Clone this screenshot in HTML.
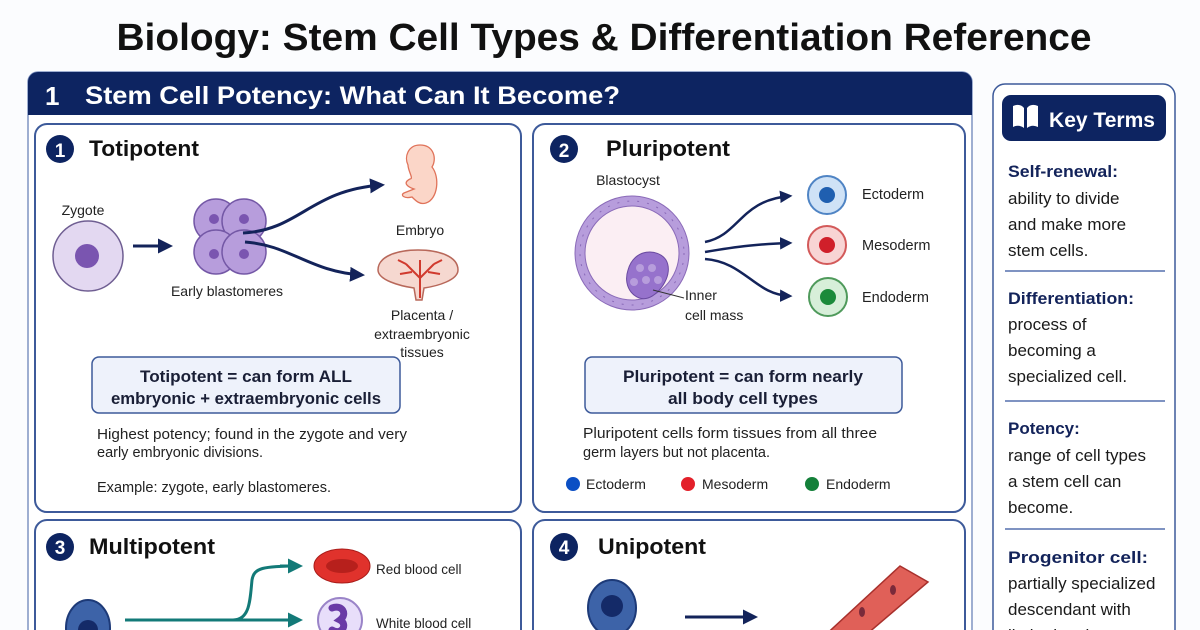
<!DOCTYPE html>
<html><head><meta charset="utf-8"><style>
html,body{margin:0;padding:0;background:#fbfcfe;width:1200px;height:630px;overflow:hidden;}
svg{display:block;font-family:"Liberation Sans",sans-serif;}
</style></head><body>
<svg width="1200" height="630" viewBox="0 0 1200 630" xmlns="http://www.w3.org/2000/svg">
<defs>
<marker id="ah" viewBox="0 0 10 10" refX="8" refY="5" markerWidth="5" markerHeight="5" orient="auto"><path d="M0,0 L10,5 L0,10 z" fill="#13235a"/></marker>
<marker id="at" viewBox="0 0 10 10" refX="8" refY="5" markerWidth="5" markerHeight="5" orient="auto"><path d="M0,0 L10,5 L0,10 z" fill="#137a78"/></marker>
</defs>
<rect width="1200" height="630" fill="#fbfcfe"/>
<text x="604" y="50" text-anchor="middle" font-size="38" font-weight="bold" fill="#111" textLength="975" lengthAdjust="spacingAndGlyphs">Biology: Stem Cell Types &amp; Differentiation Reference</text>

<rect x="28" y="72" width="944" height="600" rx="10" fill="#fff" stroke="#7f93c2" stroke-width="1.5"/>
<path d="M28,115 V82 a10,10 0 0 1 10,-10 H962 a10,10 0 0 1 10,10 V115 z" fill="#0d2461"/>
<text x="45" y="105" font-size="26" font-weight="bold" fill="#fff">1</text>
<text x="85" y="104" font-size="25" font-weight="bold" fill="#fff" textLength="535" lengthAdjust="spacingAndGlyphs">Stem Cell Potency: What Can It Become?</text>

<rect x="35" y="124" width="486" height="388" rx="12" fill="#fff" stroke="#3d5a9a" stroke-width="2"/>
<rect x="533" y="124" width="432" height="388" rx="12" fill="#fff" stroke="#3d5a9a" stroke-width="2"/>
<rect x="35" y="520" width="486" height="150" rx="12" fill="#fff" stroke="#3d5a9a" stroke-width="2"/>
<rect x="533" y="520" width="432" height="150" rx="12" fill="#fff" stroke="#3d5a9a" stroke-width="2"/>

<circle cx="60" cy="149" r="14" fill="#0d2461"/>
<text x="60" y="157" text-anchor="middle" font-size="19" font-weight="bold" fill="#fff">1</text>
<text x="89" y="156" font-size="22" font-weight="bold" fill="#111" textLength="110" lengthAdjust="spacingAndGlyphs">Totipotent</text>
<text x="83" y="215" text-anchor="middle" font-size="14" fill="#222">Zygote</text>
<circle cx="88" cy="256" r="35" fill="#e3d8f1" stroke="#6f5e92" stroke-width="1.5"/>
<circle cx="87" cy="256" r="12" fill="#7a55b0"/>
<line x1="133" y1="246" x2="170" y2="246" stroke="#13235a" stroke-width="3" marker-end="url(#ah)"/>
<g fill="#b79ddc" stroke="#7458a6" stroke-width="1.5">
<circle cx="216" cy="221" r="22"/><circle cx="244" cy="221" r="22"/>
<circle cx="216" cy="252" r="22"/><circle cx="244" cy="252" r="22"/>
</g>
<g fill="#7a55b0"><circle cx="214" cy="219" r="5"/><circle cx="244" cy="219" r="5"/><circle cx="214" cy="254" r="5"/><circle cx="244" cy="254" r="5"/></g>
<text x="227" y="296" text-anchor="middle" font-size="14" fill="#222">Early blastomeres</text>
<path d="M243,233 C300,230 310,190 382,185" fill="none" stroke="#13235a" stroke-width="3" marker-end="url(#ah)"/>
<path d="M245,242 C290,245 310,272 362,275" fill="none" stroke="#13235a" stroke-width="3" marker-end="url(#ah)"/>
<path d="M420,145 c14,0 17,14 12,22 c8,10 6,32 -6,36 c-6,2 -10,-2 -14,-6 c-8,2 -12,-2 -8,-4 l10,-4 c-6,-2 -12,-6 -4,-10 c4,0 -2,-8 -2,-14 c-4,-8 0,-20 12,-20z" fill="#fbd6c8" stroke="#e0735a" stroke-width="1.3"/>
<text x="420" y="235" text-anchor="middle" font-size="14" fill="#222">Embryo</text>
<path d="M378,270 c0,-14 20,-20 40,-20 c20,0 40,6 40,20 c0,10 -20,16 -34,18 l-2,12 h-6 l-2,-12 c-14,-2 -36,-8 -36,-18z" fill="#f6d8d0" stroke="#b8685a" stroke-width="1.5"/>
<path d="M420,298 V278 M420,278 l-14,-14 M420,278 l14,-14 M406,264 l-8,-4 M434,264 l8,-4 M412,272 l-12,2 M428,272 l12,2 M420,278 v-18" stroke="#d03a2e" stroke-width="2" fill="none"/>
<text x="422" y="320" text-anchor="middle" font-size="14" fill="#222">Placenta /</text>
<text x="422" y="339" text-anchor="middle" font-size="14" fill="#222">extraembryonic</text>
<text x="422" y="357" text-anchor="middle" font-size="14" fill="#222">tissues</text>
<rect x="92" y="357" width="308" height="56" rx="7" fill="#eef2fb" stroke="#3d5a9a" stroke-width="1.5"/>
<text x="246" y="382" text-anchor="middle" font-size="17" font-weight="bold" fill="#1a1f36" textLength="212" lengthAdjust="spacingAndGlyphs">Totipotent = can form ALL</text>
<text x="246" y="404" text-anchor="middle" font-size="17" font-weight="bold" fill="#1a1f36" textLength="270" lengthAdjust="spacingAndGlyphs">embryonic + extraembryonic cells</text>
<text x="97" y="439" font-size="14.5" fill="#222" textLength="310" lengthAdjust="spacingAndGlyphs">Highest potency; found in the zygote and very</text>
<text x="97" y="457" font-size="14.5" fill="#222">early embryonic divisions.</text>
<text x="97" y="492" font-size="14.5" fill="#222" textLength="234" lengthAdjust="spacingAndGlyphs">Example: zygote, early blastomeres.</text>

<circle cx="564" cy="149" r="14" fill="#0d2461"/>
<text x="564" y="157" text-anchor="middle" font-size="19" font-weight="bold" fill="#fff">2</text>
<text x="606" y="156" font-size="22" font-weight="bold" fill="#111" textLength="124" lengthAdjust="spacingAndGlyphs">Pluripotent</text>
<text x="628" y="185" text-anchor="middle" font-size="14" fill="#222">Blastocyst</text>
<circle cx="632" cy="253" r="52" fill="#fbeef3" stroke="#b79ddc" stroke-width="10"/>
<circle cx="632" cy="253" r="52" fill="none" stroke="#8a6ab8" stroke-width="1" stroke-dasharray="2 8"/>
<circle cx="632" cy="253" r="57" fill="none" stroke="#8a6ab8" stroke-width="1"/>
<circle cx="632" cy="253" r="47" fill="none" stroke="#8a6ab8" stroke-width="1"/>
<path d="M628,270 c6,-22 30,-22 38,-10 c8,14 -6,34 -18,38 c-12,4 -26,-10 -20,-28z" fill="#9672cc" stroke="#6a4aa0"/>
<g fill="#b79ddc"><circle cx="640" cy="268" r="4"/><circle cx="652" cy="268" r="4"/><circle cx="646" cy="280" r="4"/><circle cx="634" cy="282" r="4"/><circle cx="658" cy="280" r="4"/></g>
<line x1="653" y1="290" x2="684" y2="298" stroke="#333" stroke-width="1"/>
<text x="685" y="300" font-size="14" fill="#222">Inner</text>
<text x="685" y="320" font-size="14" fill="#222">cell mass</text>
<path d="M705,242 C740,235 740,200 790,196" fill="none" stroke="#13235a" stroke-width="2.5" marker-end="url(#ah)"/>
<path d="M705,252 C740,246 760,244 790,243" fill="none" stroke="#13235a" stroke-width="2.5" marker-end="url(#ah)"/>
<path d="M705,259 C745,262 755,295 790,296" fill="none" stroke="#13235a" stroke-width="2.5" marker-end="url(#ah)"/>
<circle cx="827" cy="195" r="19" fill="#cfe2f6" stroke="#4f84c4" stroke-width="2"/><circle cx="827" cy="195" r="8" fill="#1f5fb0"/>
<circle cx="827" cy="245" r="19" fill="#f8d4d4" stroke="#d35a5a" stroke-width="2"/><circle cx="827" cy="245" r="8" fill="#d01f2a"/>
<circle cx="828" cy="297" r="19" fill="#d7efd9" stroke="#4f9a5b" stroke-width="2"/><circle cx="828" cy="297" r="8" fill="#1b8a3a"/>
<text x="862" y="199" font-size="14.5" fill="#222">Ectoderm</text>
<text x="862" y="250" font-size="14.5" fill="#222">Mesoderm</text>
<text x="862" y="302" font-size="14.5" fill="#222">Endoderm</text>
<rect x="585" y="357" width="317" height="56" rx="7" fill="#eef2fb" stroke="#3d5a9a" stroke-width="1.5"/>
<text x="743" y="382" text-anchor="middle" font-size="17" font-weight="bold" fill="#1a1f36" textLength="240" lengthAdjust="spacingAndGlyphs">Pluripotent = can form nearly</text>
<text x="743" y="404" text-anchor="middle" font-size="17" font-weight="bold" fill="#1a1f36" textLength="150" lengthAdjust="spacingAndGlyphs">all body cell types</text>
<text x="583" y="438" font-size="14.5" fill="#222" textLength="294" lengthAdjust="spacingAndGlyphs">Pluripotent cells form tissues from all three</text>
<text x="583" y="457" font-size="14.5" fill="#222">germ layers but not placenta.</text>
<circle cx="573" cy="484" r="7" fill="#0b4fc4"/><text x="586" y="489" font-size="14" fill="#222">Ectoderm</text>
<circle cx="688" cy="484" r="7" fill="#e3202a"/><text x="702" y="489" font-size="14" fill="#222">Mesoderm</text>
<circle cx="812" cy="484" r="7" fill="#14803a"/><text x="826" y="489" font-size="14" fill="#222">Endoderm</text>

<circle cx="60" cy="547" r="14" fill="#0d2461"/>
<text x="60" y="554" text-anchor="middle" font-size="19" font-weight="bold" fill="#fff">3</text>
<text x="89" y="554" font-size="22" font-weight="bold" fill="#111" textLength="126" lengthAdjust="spacingAndGlyphs">Multipotent</text>
<ellipse cx="88" cy="628" rx="22" ry="28" fill="#3d63a8" stroke="#1d3a78" stroke-width="2"/>
<circle cx="88" cy="630" r="10" fill="#142a68"/>
<path d="M125,620 H300 M233,620 C250,620 250,600 252,580 C254,568 262,566 300,566" fill="none" stroke="#137a78" stroke-width="3"/>
<line x1="280" y1="566" x2="300" y2="566" stroke="#137a78" stroke-width="3" marker-end="url(#at)"/>
<line x1="280" y1="620" x2="300" y2="620" stroke="#137a78" stroke-width="3" marker-end="url(#at)"/>
<ellipse cx="342" cy="566" rx="28" ry="17" fill="#e0322c" stroke="#a81b18"/>
<ellipse cx="342" cy="566" rx="16" ry="7" fill="#b7201c"/>
<text x="376" y="574" font-size="13.5" fill="#222">Red blood cell</text>
<circle cx="340" cy="620" r="22" fill="#e8defa" stroke="#9a84c8" stroke-width="2"/>
<path d="M332,608 c10,-4 16,6 8,12 c8,4 2,16 -8,10" fill="none" stroke="#6a3aa6" stroke-width="7" stroke-linecap="round"/>
<text x="376" y="628" font-size="13.5" fill="#222">White blood cell</text>

<circle cx="564" cy="547" r="14" fill="#0d2461"/>
<text x="564" y="554" text-anchor="middle" font-size="19" font-weight="bold" fill="#fff">4</text>
<text x="598" y="554" font-size="22" font-weight="bold" fill="#111" textLength="108" lengthAdjust="spacingAndGlyphs">Unipotent</text>
<ellipse cx="612" cy="608" rx="24" ry="28" fill="#3d63a8" stroke="#1d3a78" stroke-width="2"/>
<circle cx="612" cy="606" r="11" fill="#142a68"/>
<line x1="685" y1="617" x2="755" y2="617" stroke="#13235a" stroke-width="3" marker-end="url(#ah)"/>
<path d="M900,566 L928,582 L860,640 L820,640 z" fill="#e06058" stroke="#a8302c" stroke-width="1.5"/>
<ellipse cx="893" cy="590" rx="3" ry="5" fill="#7a2a3a"/><ellipse cx="862" cy="612" rx="3" ry="5" fill="#7a2a3a"/>

<rect x="993" y="84" width="182" height="600" rx="12" fill="#fff" stroke="#3d5a9a" stroke-width="1.5"/>
<rect x="1002" y="95" width="164" height="46" rx="9" fill="#0d2461"/>
<path d="M1013,106 q7,-3 11,2 v20 q-5,-4 -11,-1z M1027,108 q4,-5 11,-2 v21 q-6,-3 -11,1z" fill="#fff"/>
<text x="1049" y="127" font-size="21" font-weight="bold" fill="#fff" textLength="106" lengthAdjust="spacingAndGlyphs">Key Terms</text>
<g font-size="17" fill="#1a1a1a">
<text x="1008" y="177" font-weight="bold" fill="#13235a" textLength="110" lengthAdjust="spacingAndGlyphs">Self-renewal:</text>
<text x="1008" y="204">ability to divide</text>
<text x="1008" y="230">and make more</text>
<text x="1008" y="256">stem cells.</text>
<line x1="1005" y1="271" x2="1165" y2="271" stroke="#7f93c2" stroke-width="2"/>
<text x="1008" y="304" font-weight="bold" fill="#13235a" textLength="126" lengthAdjust="spacingAndGlyphs">Differentiation:</text>
<text x="1008" y="330">process of</text>
<text x="1008" y="356">becoming a</text>
<text x="1008" y="382">specialized cell.</text>
<line x1="1005" y1="401" x2="1165" y2="401" stroke="#7f93c2" stroke-width="2"/>
<text x="1008" y="434" font-weight="bold" fill="#13235a">Potency:</text>
<text x="1008" y="461">range of cell types</text>
<text x="1008" y="487">a stem cell can</text>
<text x="1008" y="513">become.</text>
<line x1="1005" y1="529" x2="1165" y2="529" stroke="#7f93c2" stroke-width="2"/>
<text x="1008" y="563" font-weight="bold" fill="#13235a" textLength="140" lengthAdjust="spacingAndGlyphs">Progenitor cell:</text>
<text x="1008" y="589">partially specialized</text>
<text x="1008" y="615">descendant with</text>
<text x="1008" y="641">limited options</text>
</g>
</svg>
</body></html>
